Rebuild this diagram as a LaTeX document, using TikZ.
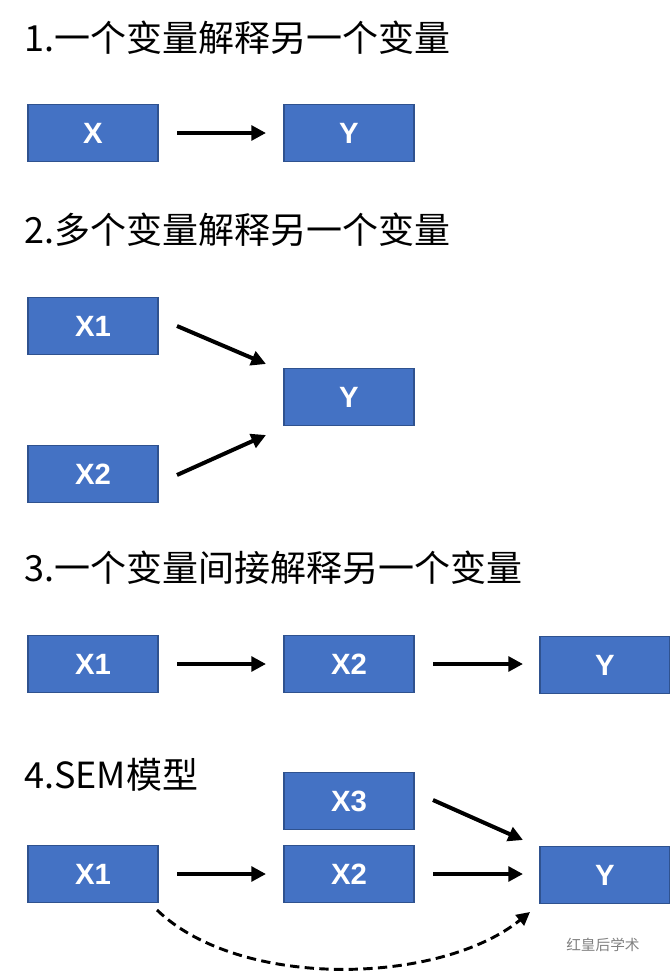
\documentclass[tikz,border=0pt]{standalone}
\usepackage{fontspec}
\setmainfont{Noto Sans CJK SC}
\newfontfamily\boxfont{Liberation Sans}
\usetikzlibrary{arrows.meta}
\definecolor{boxblue}{HTML}{4472C4}
\definecolor{boxedge}{HTML}{2F528F}
\tikzset{
  vbox/.style={draw=boxedge,line width=1pt,fill=boxblue,minimum width=130*0.75pt,minimum height=57*0.75pt,inner sep=0pt,text=white,font=\boxfont\bfseries\fontsize{22}{22}\selectfont},
  ttl/.style={anchor=west,inner sep=0pt,font=\fontsize{27}{27}\selectfont},
  arr/.style={line width=3pt,-{Triangle[length=11pt,width=11pt]}},
}
\begin{document}
\begin{tikzpicture}[x=0.75pt,y=-0.75pt]
\useasboundingbox (0,0) rectangle (670,974);
% 1
\node[ttl] (t1) at (24,38) {1.一个变量解释另一个变量};
\node[vbox] (a1) at (93,133) {X};
\node[vbox] (a2) at (349,133) {Y};
\coordinate (a1s) at (177,133); \coordinate (a1e) at (266,133);
\draw[arr] (a1s) -- (a1e);
% 2
\node[ttl] (t2) at (24,230) {2.多个变量解释另一个变量};
\node[vbox] (b1) at (93,326) {X1};
\node[vbox] (b2) at (93,474) {X2};
\node[vbox] (b3) at (349,397) {Y};
\coordinate (b1s) at (177,326); \coordinate (b1e) at (266,364);
\coordinate (b2s) at (177,475); \coordinate (b2e) at (266,435);
\draw[arr] (b1s) -- (b1e);
\draw[arr] (b2s) -- (b2e);
% 3
\node[ttl] (t3) at (24,568) {3.一个变量间接解释另一个变量};
\node[vbox] (c1) at (93,664) {X1};
\node[vbox] (c2) at (349,664) {X2};
\node[vbox] (c3) at (605,665) {Y};
\coordinate (c1s) at (177,664); \coordinate (c1e) at (266,664);
\coordinate (c2s) at (433,664); \coordinate (c2e) at (523,664);
\draw[arr] (c1s) -- (c1e);
\draw[arr] (c2s) -- (c2e);
% 4
\node[ttl] (t4) at (24,775) {4.SEM模型};
\node[vbox] (d3) at (349,801) {X3};
\node[vbox] (d1) at (93,874) {X1};
\node[vbox] (d2) at (349,874) {X2};
\node[vbox] (d4) at (605,875) {Y};
\coordinate (d1s) at (177,874); \coordinate (d1e) at (266,874);
\coordinate (d2s) at (433,874); \coordinate (d2e) at (523,874);
\coordinate (d3s) at (433,800); \coordinate (d3e) at (523,840);
\draw[arr] (d1s) -- (d1e);
\draw[arr] (d2s) -- (d2e);
\draw[arr] (d3s) -- (d3e);
\coordinate (ds) at (157,910); \coordinate (de) at (530,912);
\draw[line width=2.2pt,dash pattern=on 7pt off 4pt,-{Triangle[length=10pt,width=10pt]}] (ds) .. controls (240,990) and (440,985) .. (de);
\node[anchor=west,text=gray,font=\fontsize{11}{11}\selectfont,inner sep=0pt] (wm) at (566,945) {红皇后学术};
\end{tikzpicture}
\end{document}
